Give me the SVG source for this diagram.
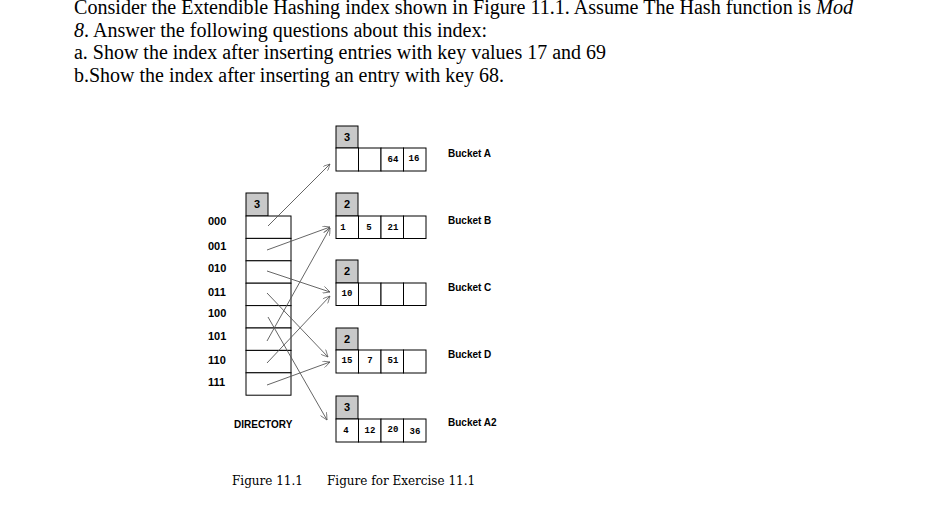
<svg xmlns="http://www.w3.org/2000/svg" width="927" height="523" viewBox="0 0 927 523">
<style>
.q{font-family:"Liberation Serif",serif;font-size:20px;fill:#000}
.c{fill:#fff;stroke:#000;stroke-width:1}
.d{fill:#c8c8c8;stroke:#000;stroke-width:1}
.dn{font-family:"Liberation Sans",sans-serif;font-weight:bold;font-size:11px;text-anchor:middle}
.v{font-family:"Liberation Mono",monospace;font-weight:bold;font-size:9px;text-anchor:middle}
.l{font-family:"Liberation Sans",sans-serif;font-weight:bold;font-size:10px}
.k{font-family:"Liberation Sans",sans-serif;font-weight:bold;font-size:11px}
.cap{font-family:"DejaVu Serif","Liberation Serif",serif;font-size:12px}
.ar{stroke:#555;stroke-width:0.9;fill:none;marker-end:url(#a)}
</style>
<defs>
<marker id="a" viewBox="0 0 10 10" refX="10" refY="5" markerWidth="9" markerHeight="7" orient="auto" markerUnits="userSpaceOnUse"><path d="M0,0 L10,5 L0,10" fill="none" stroke="#555" stroke-width="1"/></marker>
</defs>
<rect width="927" height="523" fill="#fff"/>
<g id="question">
<text class="q" x="74" y="14" textLength="779" lengthAdjust="spacingAndGlyphs">Consider the Extendible Hashing index shown in Figure 11.1. Assume The Hash function is <tspan font-style="italic">Mod</tspan></text>
<text class="q" x="74" y="37" textLength="413" lengthAdjust="spacingAndGlyphs"><tspan font-style="italic">8</tspan>. Answer the following questions about this index:</text>
<text class="q" x="74" y="59" textLength="532" lengthAdjust="spacingAndGlyphs">a. Show the index after inserting entries with key values 17 and 69</text>
<text class="q" x="74" y="82" textLength="430" lengthAdjust="spacingAndGlyphs">b.Show the index after inserting an entry with key 68.</text>
</g>
<g id="directory">
<rect class="d" x="246" y="193" width="22" height="23"/>
<text class="dn" x="257" y="208">3</text>
<rect class="c" x="246" y="216" width="45" height="22.4"/>
<rect class="c" x="246" y="238.4" width="45" height="22.4"/>
<rect class="c" x="246" y="260.8" width="45" height="22.4"/>
<rect class="c" x="246" y="283.2" width="45" height="22.4"/>
<rect class="c" x="246" y="305.6" width="45" height="22.4" stroke="#888"/>
<rect class="c" x="246" y="328" width="45" height="22.4" stroke="#888"/>
<rect class="c" x="246" y="350.4" width="45" height="22.4" stroke="#888"/>
<rect class="c" x="246" y="372.8" width="45" height="22.4" stroke="#888"/>
<text class="k" x="208" y="225">000</text>
<text class="k" x="208" y="250">001</text>
<text class="k" x="208" y="272">010</text>
<text class="k" x="208" y="296">011</text>
<text class="k" x="208" y="317">100</text>
<text class="k" x="208" y="340">101</text>
<text class="k" x="208" y="364">110</text>
<text class="k" x="208" y="386">111</text>
<text class="l" x="234" y="428">DIRECTORY</text>
</g>
<g id="bucketA">
<rect class="d" x="336" y="126" width="22" height="22"/><text class="dn" x="347" y="141">3</text>
<rect class="c" x="336" y="148" width="22.5" height="23"/><rect class="c" x="358.5" y="148" width="22.5" height="23"/><rect class="c" x="381" y="148" width="22.5" height="23"/><rect class="c" x="403.5" y="148" width="22.5" height="23"/>
<text class="v" x="393" y="162">64</text><text class="v" x="414" y="161">16</text>
<text class="l" x="448" y="157">Bucket A</text>
</g>
<g id="bucketB">
<rect class="d" x="336" y="193" width="22" height="23"/><text class="dn" x="347" y="208">2</text>
<rect class="c" x="336" y="216" width="22.5" height="22.5"/><rect class="c" x="358.5" y="216" width="22.5" height="22.5"/><rect class="c" x="381" y="216" width="22.5" height="22.5"/><rect class="c" x="403.5" y="216" width="22.5" height="22.5"/>
<text class="v" x="343" y="230">1</text><text class="v" x="369" y="230">5</text><text class="v" x="393" y="230">21</text>
<text class="l" x="448" y="224">Bucket B</text>
</g>
<g id="bucketC">
<rect class="d" x="336" y="260" width="22" height="23"/><text class="dn" x="347" y="275">2</text>
<rect class="c" x="336" y="283" width="22.5" height="22.5"/><rect class="c" x="358.5" y="283" width="22.5" height="22.5"/><rect class="c" x="381" y="283" width="22.5" height="22.5"/><rect class="c" x="403.5" y="283" width="22.5" height="22.5"/>
<text class="v" x="347" y="296">10</text>
<text class="l" x="448" y="291">Bucket C</text>
</g>
<g id="bucketD">
<rect class="d" x="336" y="328" width="22" height="22"/><text class="dn" x="347" y="343">2</text>
<rect class="c" x="336" y="350" width="22.5" height="23"/><rect class="c" x="358.5" y="350" width="22.5" height="23"/><rect class="c" x="381" y="350" width="22.5" height="23"/><rect class="c" x="403.5" y="350" width="22.5" height="23"/>
<text class="v" x="347" y="363">15</text><text class="v" x="370" y="363">7</text><text class="v" x="393" y="363">51</text>
<text class="l" x="448" y="358">Bucket D</text>
</g>
<g id="bucketA2">
<rect class="d" x="336" y="396" width="22" height="23"/><text class="dn" x="347" y="411">3</text>
<rect class="c" x="336" y="419" width="22.5" height="23"/><rect class="c" x="358.5" y="419" width="22.5" height="23"/><rect class="c" x="381" y="419" width="22.5" height="23"/><rect class="c" x="403.5" y="419" width="22.5" height="23"/>
<text class="v" x="346" y="433">4</text><text class="v" x="370" y="433">12</text><text class="v" x="393" y="432">20</text><text class="v" x="415" y="434">36</text>
<text class="l" x="448" y="426">Bucket A2</text>
</g>
<g id="connectors">
<line class="ar" x1="268" y1="226" x2="330" y2="164"/>
<line class="ar" x1="267" y1="250" x2="330" y2="227"/>
<line class="ar" x1="267" y1="271" x2="330" y2="292"/>
<line class="ar" x1="267" y1="293" x2="328" y2="357"/>
<line class="ar" x1="268" y1="317" x2="327" y2="420"/>
<line class="ar" x1="267" y1="341" x2="330" y2="228"/>
<line class="ar" x1="267" y1="363" x2="330" y2="296"/>
<line class="ar" x1="267" y1="385" x2="330" y2="362"/>
</g>
<g id="caption">
<text class="cap" x="232" y="485">Figure 11.1</text>
<text class="cap" x="327" y="485">Figure for Exercise 11.1</text>
</g>
</svg>
